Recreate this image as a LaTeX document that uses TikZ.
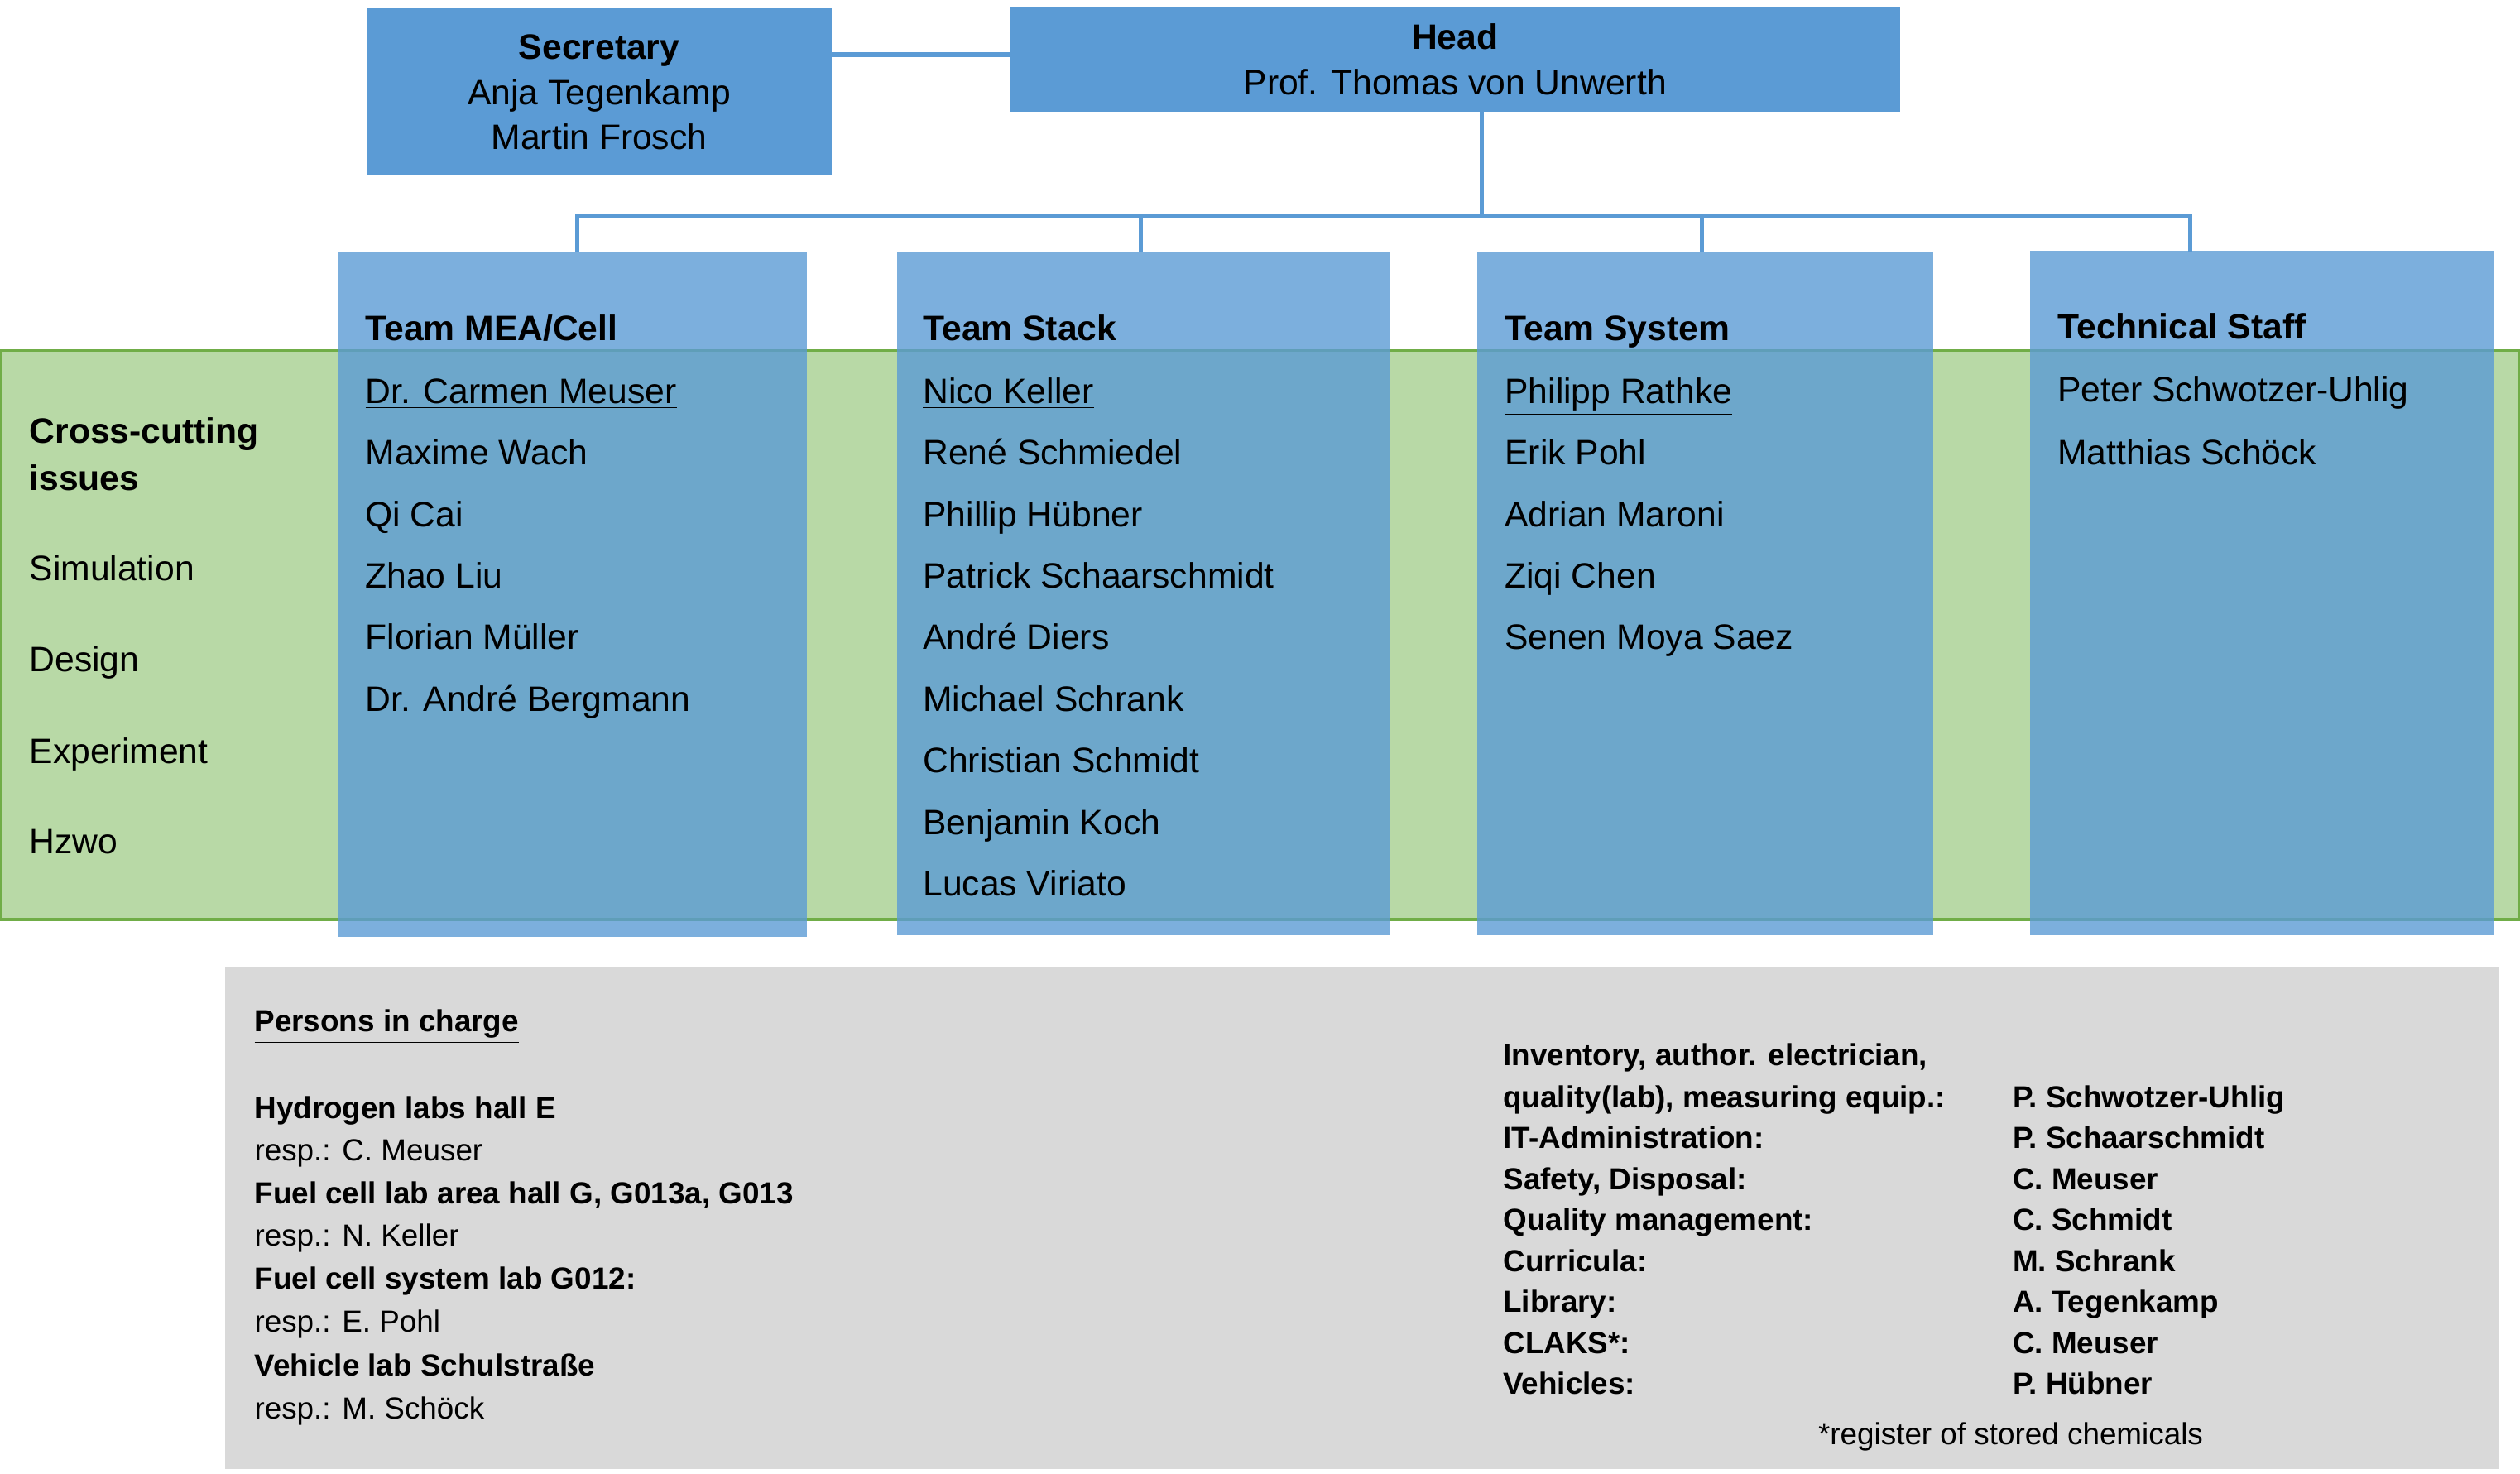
\documentclass[tikz,border=0pt]{standalone}
\usepackage{fontspec}
\setmainfont{Liberation Sans}
\definecolor{bl}{HTML}{5B9BD5}
\definecolor{gr}{HTML}{B8D9A6}
\definecolor{grd}{HTML}{70AD47}
\definecolor{gy}{HTML}{D9D9D9}
\begin{document}
\begin{tikzpicture}[x=0.02cm,y=-0.02cm,
 t/.style={anchor=base west,inner sep=0,font=\fontsize{12.5}{15}\selectfont},
 tb/.style={t,font=\fontsize{12.5}{15}\selectfont\bfseries},
 s/.style={anchor=base west,inner sep=0,font=\fontsize{10.8}{13}\selectfont},
 sb/.style={s,font=\fontsize{10.8}{13}\selectfont\bfseries},
 team/.style={fill=bl,fill opacity=0.8,draw=none},
 conn/.style={draw=bl,line width=1.5pt}]
\useasboundingbox (0,0) rectangle (1568,916.6);
\fill[gr,draw=grd,line width=1pt] (0,218) rectangle (1568,572);
\node[tb] at (18,276) {Cross-cutting};
\node[tb] at (18,305) {issues};
\foreach \w/\y in {Simulation/361,Design/418,Experiment/475,Hzwo/531} \node[t] at (18,\y) {\w};
\node[fill=bl,minimum width=289*0.02cm,minimum height=104*0.02cm,inner sep=0,anchor=north west,align=center,font=\fontsize{12.5}{16}\selectfont] (sec) at (228,5) {\textbf{Secretary}\\Anja Tegenkamp\\Martin Frosch};
\node[fill=bl,minimum width=554*0.02cm,minimum height=65*0.02cm,inner sep=0,anchor=north west,align=center,font=\fontsize{12.5}{16}\selectfont] (head) at (628,4) {\textbf{Head}\\Prof. Thomas von Unwerth};
\draw[conn] (sec.east |- 0,34) -- (head.west |- 0,34);
\coordinate (j) at (922,134);
\draw[conn] (head.south -| j) -- (j);
\draw[conn] (359,157) -- (359,134) -- (1363,134) -- (1363,157);
\draw[conn] (710,134) -- (710,157);
\draw[conn] (1059,134) -- (1059,157);
\path[team] (210,157) rectangle (502,583);
\path[team] (558,157) rectangle (865,582);
\path[team] (919,157) rectangle (1203,582);
\path[team] (1263,156) rectangle (1552,582);
\node[tb] at (227,212) {Team MEA/Cell};
\node[t] at (227,251) {\underline{Dr. Carmen Meuser}};
\foreach \n [count=\i] in {Maxime Wach,Qi Cai,Zhao Liu,Florian Müller,Dr. André Bergmann} \node[t] at (227,251+38.3*\i) {\n};
\node[tb] at (574,212) {Team Stack};
\node[t] at (574,251) {\underline{Nico Keller}};
\foreach \n [count=\i] in {René Schmiedel,Phillip Hübner,Patrick Schaarschmidt,André Diers,Michael Schrank,Christian Schmidt,Benjamin Koch,Lucas Viriato} \node[t] at (574,251+38.3*\i) {\n};
\node[tb] at (936,212) {Team System};
\node[t] at (936,251) {\underline{Philipp Rathke}};
\foreach \n [count=\i] in {Erik Pohl,Adrian Maroni,Ziqi Chen,Senen Moya Saez} \node[t] at (936,251+38.3*\i) {\n};
\node[tb] at (1280,211) {Technical Staff};
\node[t] at (1280,250) {Peter Schwotzer-Uhlig};
\node[t] at (1280,289) {Matthias Schöck};
\fill[gy] (140,602) rectangle (1555,914);
\node[sb] at (158,642) {\underline{Persons in charge}};
\node[sb] at (158,696) {Hydrogen labs hall E};
\node[s] at (158,722) {resp.: C. Meuser};
\node[sb] at (158,749) {Fuel cell lab area hall G, G013a, G013};
\node[s] at (158,775) {resp.: N. Keller};
\node[sb] at (158,802) {Fuel cell system lab G012:};
\node[s] at (158,829) {resp.: E. Pohl};
\node[sb] at (158,856) {Vehicle lab Schulstraße};
\node[s] at (158,883) {resp.: M. Schöck};
\node[sb] at (935,663) {Inventory, author. electrician,};
\foreach \a/\b [count=\i from 0] in {{quality(lab), measuring equip.:}/P. Schwotzer-Uhlig,IT-Administration:/P. Schaarschmidt,{Safety, Disposal:}/C. Meuser,Quality management:/C. Schmidt,Curricula:/M. Schrank,Library:/A. Tegenkamp,CLAKS*:/C. Meuser,Vehicles:/P. Hübner}{
 \node[sb] at (935,689+25.5*\i) {\a};
 \node[sb] at (1252,689+25.5*\i) {\b};}
\node[s] at (1131,899) {*register of stored chemicals};
\end{tikzpicture}
\end{document}
